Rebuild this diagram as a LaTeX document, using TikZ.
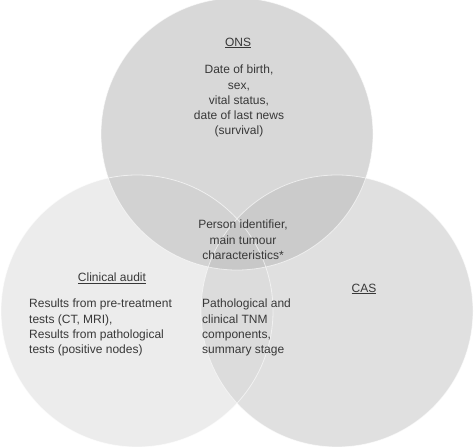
\documentclass[tikz,border=0pt]{standalone}
\usepackage{fontspec}
\setmainfont{Liberation Sans}
\usepackage{xcolor}
\usetikzlibrary{positioning}
\definecolor{vtext}{HTML}{383838}
\definecolor{onsfill}{HTML}{D8D8D8}
\definecolor{auditfill}{HTML}{ECECEC}
\definecolor{casfill}{HTML}{E0E0E0}
\definecolor{onsaudit}{HTML}{D2D2D2}
\definecolor{onscas}{HTML}{CBCBCB}
\definecolor{auditcas}{HTML}{DCDCDC}
\definecolor{allthree}{HTML}{C8C8C8}

\begin{document}
\begin{tikzpicture}[
  x=1pt, y=-1pt,
  setcircle/.style={circle, minimum size=272pt, inner sep=0pt},
  setlabel/.style={font=\fontsize{12}{15.2}\selectfont, text=vtext, inner sep=0pt},
  settext/.style={setlabel, align=center}
]
  \useasboundingbox (0,0) rectangle (474,447);
  \fill[white] (0,0) rectangle (474,447);
  % the three sources
  \node[setcircle, fill=onsfill] (ons) at (237,134) {};
  \node[setcircle, fill=auditfill] (audit) at (137,311) {};
  \node[setcircle, fill=casfill] (cas) at (337,311) {};
  % overlaps
  \begin{scope}
    \clip (ons.center) circle (136);
    \fill[onsaudit] (audit.center) circle (136);
    \fill[onscas] (cas.center) circle (136);
  \end{scope}
  \begin{scope}
    \clip (audit.center) circle (136);
    \fill[auditcas] (cas.center) circle (136);
    \clip (cas.center) circle (136);
    \fill[allthree] (ons.center) circle (136);
  \end{scope}
  \foreach \c in {ons, audit, cas}
    \draw[white, opacity=0.6, line width=0.8pt] (\c.center) circle (136);

  \node[setlabel] (onsname) at (238,43) {\underline{ONS}};
  \node[settext, anchor=north] (onsdata) at (239,65) {Date of birth,\\ sex,\\ vital status,\\ date of last news\\ (survival)};
  \node[settext, anchor=north] (shared) at (243,220) {Person identifier,\\ main tumour\\ characteristics*};
  \node[setlabel] (auditname) at (112,278) {\underline{Clinical audit}};
  \node[setlabel, align=left, anchor=north west] (auditdata) at (29,299) {Results from pre-treatment\\ tests (CT, MRI),\\ Results from pathological\\ tests (positive nodes)};
  \node[setlabel] (casname) at (364,289) {\underline{CAS}};
  \node[setlabel, align=left, anchor=north west] (stage) at (202,299) {Pathological and\\ clinical TNM\\ components,\\ summary stage};
\end{tikzpicture}
\end{document}
